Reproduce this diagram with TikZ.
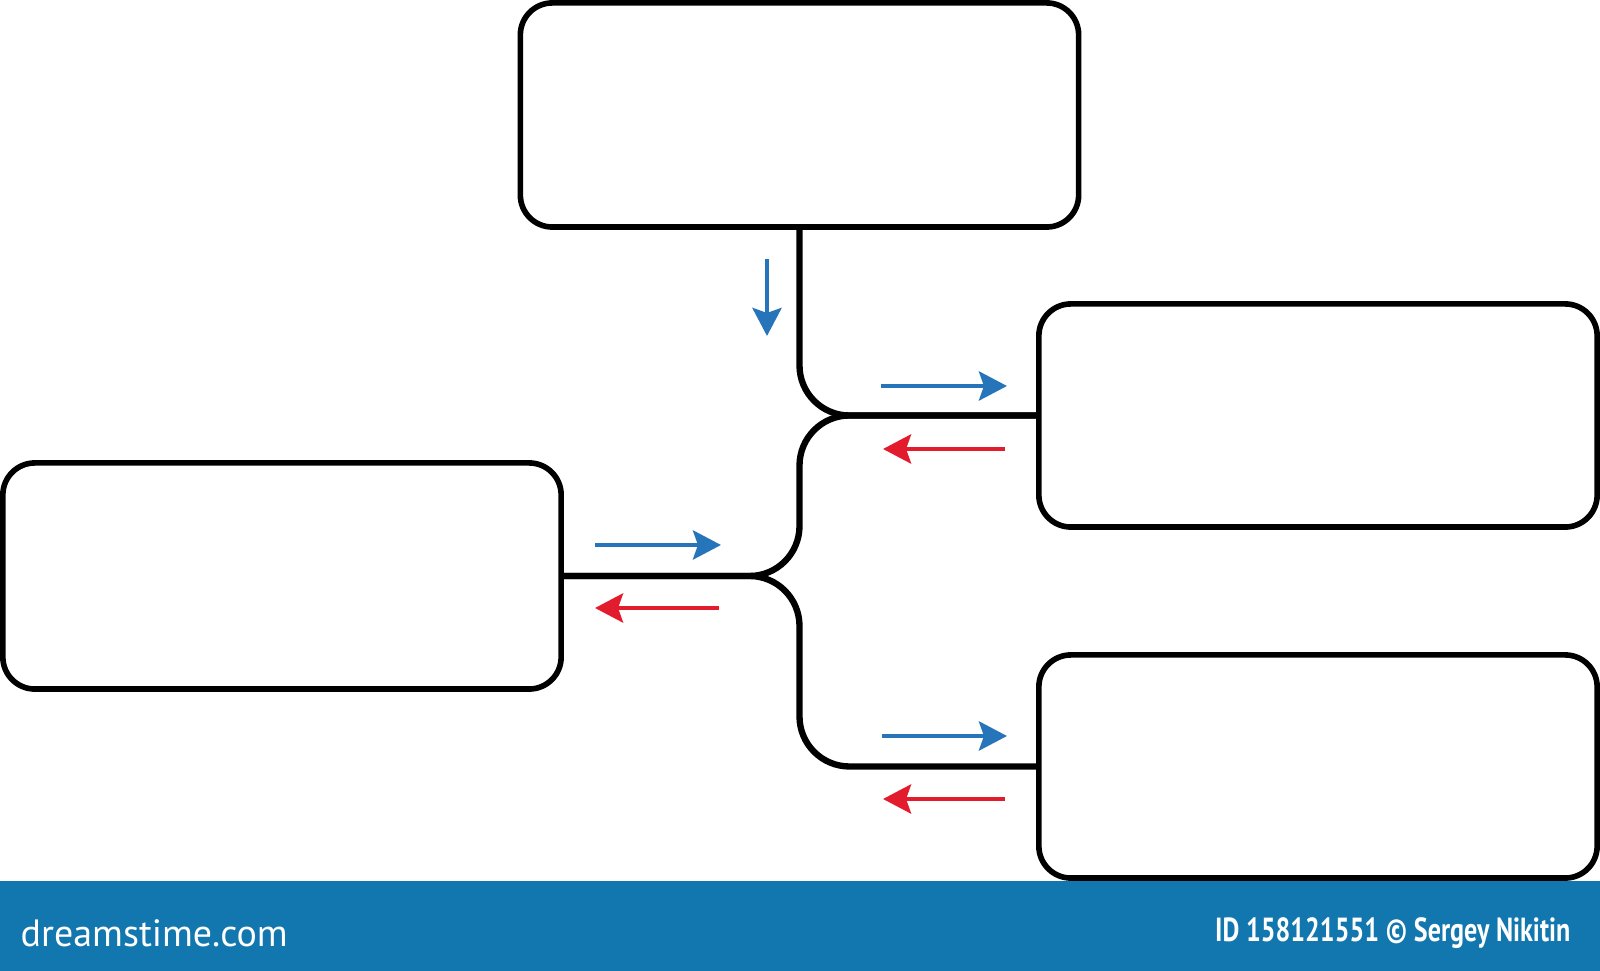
\documentclass[tikz,border=0pt]{standalone}
\usepackage{fontspec}
\usepackage{tikz}
\usetikzlibrary{arrows.meta,positioning}
\newfontfamily\bannerfont{PT Sans}
\definecolor{arrblue}{RGB}{38,117,187}
\definecolor{arrred}{RGB}{226,27,45}
\definecolor{bannerblue}{RGB}{18,119,175}

\begin{document}
\begin{tikzpicture}[x=0.01cm, y=-0.01cm,
	box/.style={draw, line width=1.6pt, rounded corners=0.32cm, minimum width=5.58cm, minimum height=2.23cm, inner sep=0pt},
	link/.style={line width=1.8pt, rounded corners=0.5cm},
	bluearrow/.style={arrblue, line width=1.3pt, -{Stealth[length=0.28cm, width=0.29cm, inset=0.05cm]}},
	redarrow/.style={arrred, line width=1.3pt, -{Stealth[length=0.28cm, width=0.29cm, inset=0.05cm]}}]

	\useasboundingbox (0,0) rectangle (1600,971);
	\fill [bannerblue] (0,881) rectangle (1600,971);

	\node (A) [box, minimum height=2.24cm] at (799.5,115) {};
	\node (B) [box] at (1318,415.5) {};
	\node (C) [box, minimum height=2.26cm] at (282,576) {};
	\node (D) [box] at (1318,766.5) {};

	\draw [link] (A) -- (A |- B) -- (B);
	\draw [link] (C) -- (C -| A) -- (A |- B) -- (B);
	\draw [link] (C) -- (C -| A) -- (A |- D) -- (D);

	\coordinate (d1) at (767,259);
	\coordinate (d2) at (767,336);
	\draw [bluearrow] (d1) -- (d2);

	\foreach \n/\xa/\xb/\y in {1/881/1007/386, 2/595/721/545, 3/882/1007/736}{
		\coordinate (bs\n) at (\xa,\y);
		\coordinate (be\n) at (\xb,\y);
		\draw [bluearrow] (bs\n) -- (be\n);
	}
	\foreach \n/\xa/\xb/\y in {1/1005/883/449, 2/719/595/608, 3/1005/883/799}{
		\coordinate (rs\n) at (\xa,\y);
		\coordinate (re\n) at (\xb,\y);
		\draw [redarrow] (rs\n) -- (re\n);
	}

	\node (logo) [anchor=west, white, inner sep=0pt, font=\bannerfont\fontsize{10.8}{10.8}\selectfont] at (20,933) {dreamstime.com};
	\node (id) [anchor=east, white, inner sep=0pt, font=\bannerfont\bfseries\fontsize{9.5}{9.5}\selectfont] at (1571,933) {\scalebox{0.78}[1]{ID 158121551 © Sergey Nikitin}};

\end{tikzpicture}
\end{document}
